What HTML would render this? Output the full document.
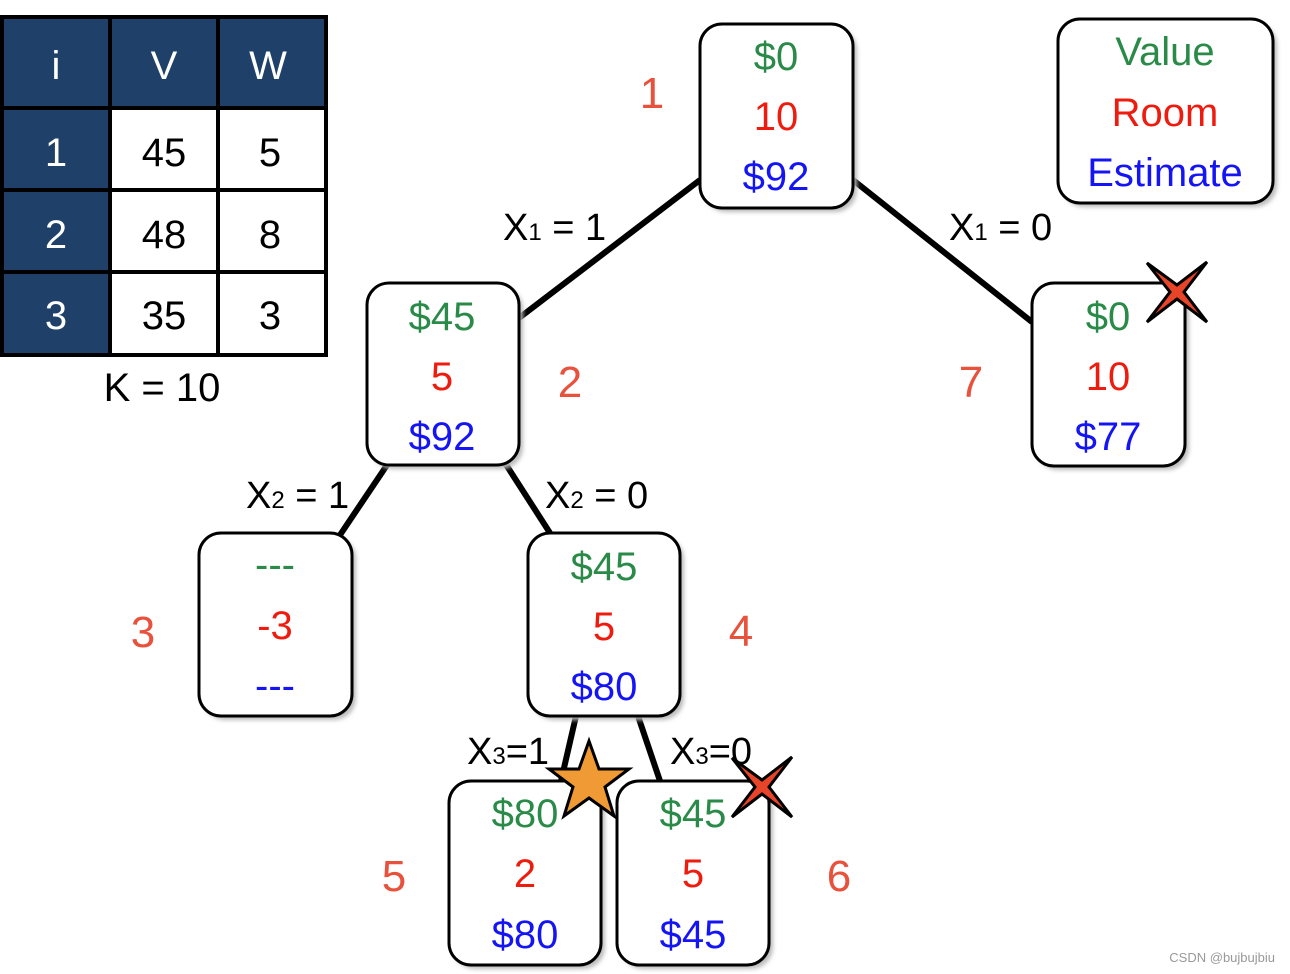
<!DOCTYPE html>
<html><head><meta charset="utf-8"><style>
html,body{margin:0;padding:0;background:#fff;width:1290px;height:974px;overflow:hidden}
svg{display:block;font-family:"Liberation Sans",Arial,sans-serif}
.g{fill:#2a8a48}.r{fill:#ee1c0e}.b{fill:#1414f5}.n{fill:#e8513c;font-size:44px}
.node{fill:#fff;stroke:#000;stroke-width:3}
.sh{fill:#bbb}
</style></head><body>
<svg width="1290" height="974" viewBox="0 0 1290 974">
<defs><filter id="bl"><feGaussianBlur stdDeviation="2"/></filter></defs>
<rect x="2" y="17" width="324" height="338" fill="#fff"/>
<rect x="2" y="17" width="324" height="91" fill="#1f4068"/>
<rect x="2" y="17" width="108" height="338" fill="#1f4068"/>
<g stroke="#000" stroke-width="4" fill="none">
<rect x="2" y="17" width="324" height="338"/>
<line x1="110" y1="17" x2="110" y2="355"/><line x1="218" y1="17" x2="218" y2="355"/>
<line x1="2" y1="108" x2="326" y2="108"/><line x1="2" y1="190" x2="326" y2="190"/><line x1="2" y1="272" x2="326" y2="272"/>
</g>
<g font-size="40" text-anchor="middle">
<text x="56" y="79" fill="#fff">i</text><text x="164" y="79" fill="#fff">V</text><text x="268" y="79" fill="#fff">W</text>
<text x="56" y="166" fill="#fff">1</text><text x="164" y="166">45</text><text x="270" y="166">5</text>
<text x="56" y="248" fill="#fff">2</text><text x="164" y="248">48</text><text x="270" y="248">8</text>
<text x="56" y="329" fill="#fff">3</text><text x="164" y="329">35</text><text x="270" y="329">3</text>
<text x="162" y="401">K = 10</text>
</g>
<g stroke="#000" stroke-width="6">
<line x1="700" y1="180" x2="519" y2="318"/>
<line x1="853" y1="180" x2="1032" y2="322"/>
<line x1="387" y1="465" x2="340" y2="535"/>
<line x1="505" y1="463" x2="550" y2="533"/>
<line x1="576" y1="716" x2="561" y2="781"/>
<line x1="638" y1="716" x2="660" y2="781"/>
</g>
<g>
<rect class="sh" filter="url(#bl)" x="704" y="28" width="153" height="184" rx="22"/>
<rect class="node" x="700" y="24" width="153" height="184" rx="22"/>
<rect class="sh" filter="url(#bl)" x="1062" y="23" width="215" height="184" rx="22"/>
<rect class="node" x="1058" y="19" width="215" height="184" rx="22"/>
<rect class="sh" filter="url(#bl)" x="371" y="287" width="152" height="182" rx="22"/>
<rect class="node" x="367" y="283" width="152" height="182" rx="22"/>
<rect class="sh" filter="url(#bl)" x="1036" y="287" width="153" height="183" rx="22"/>
<rect class="node" x="1032" y="283" width="153" height="183" rx="22"/>
<rect class="sh" filter="url(#bl)" x="203" y="537" width="153" height="183" rx="22"/>
<rect class="node" x="199" y="533" width="153" height="183" rx="22"/>
<rect class="sh" filter="url(#bl)" x="532" y="537" width="152" height="183" rx="22"/>
<rect class="node" x="528" y="533" width="152" height="183" rx="22"/>
<rect class="sh" filter="url(#bl)" x="453" y="785" width="152" height="184" rx="22"/>
<rect class="node" x="449" y="781" width="152" height="184" rx="22"/>
<rect class="sh" filter="url(#bl)" x="621" y="785" width="152" height="184" rx="22"/>
<rect class="node" x="617" y="781" width="152" height="184" rx="22"/>
</g>
<g font-size="40" text-anchor="middle">
<text class="g" x="776" y="70">$0</text><text class="r" x="776" y="130">10</text><text class="b" x="776" y="190">$92</text>
<text class="g" x="1165" y="65">Value</text><text class="r" x="1165" y="126">Room</text><text class="b" x="1165" y="186">Estimate</text>
<text class="g" x="442" y="330">$45</text><text class="r" x="442" y="390">5</text><text class="b" x="442" y="450">$92</text>
<text class="g" x="1108" y="330">$0</text><text class="r" x="1108" y="390">10</text><text class="b" x="1108" y="450">$77</text>
<text class="g" x="275" y="578">---</text><text class="r" x="275" y="639">-3</text><text class="b" x="275" y="699">---</text>
<text class="g" x="604" y="580">$45</text><text class="r" x="604" y="640">5</text><text class="b" x="604" y="700">$80</text>
<text class="g" x="525" y="827">$80</text><text class="r" x="525" y="887">2</text><text class="b" x="525" y="948">$80</text>
<text class="g" x="693" y="827">$45</text><text class="r" x="693" y="887">5</text><text class="b" x="693" y="948">$45</text>
</g>
<g font-size="38">
<text x="503" y="240">X<tspan font-size="24">1</tspan> = 1</text>
<text x="949" y="240">X<tspan font-size="24">1</tspan> = 0</text>
<text x="246" y="508">X<tspan font-size="24">2</tspan> = 1</text>
<text x="545" y="508">X<tspan font-size="24">2</tspan> = 0</text>
<text x="467" y="764">X<tspan font-size="24">3</tspan>=1</text>
<text x="670" y="764">X<tspan font-size="24">3</tspan>=0</text>
</g>
<g class="n" text-anchor="middle">
<text class="n" x="652" y="108">1</text>
<text class="n" x="570" y="397">2</text>
<text class="n" x="971" y="397">7</text>
<text class="n" x="143" y="647">3</text>
<text class="n" x="741" y="646">4</text>
<text class="n" x="394" y="891">5</text>
<text class="n" x="839" y="891">6</text>
</g>
<polygon points="589,741 599,769 629,769 605,787 614,816 589,798 564,816 573,787 549,769 579,769" fill="#f09a35" stroke="#000" stroke-width="3"/>
<g fill="#e8442a" stroke="#000" stroke-width="3">
<polygon points="1147,263 1177,285 1207,262 1184,292 1207,322 1177,299 1147,322 1170,292"/>
<polygon points="732,758 762,780 792,757 769,787 792,817 762,794 732,817 755,787"/>
</g>
<text x="1275" y="962" font-size="13" fill="#999" text-anchor="end">CSDN @bujbujbiu</text>
</svg>
</body></html>
